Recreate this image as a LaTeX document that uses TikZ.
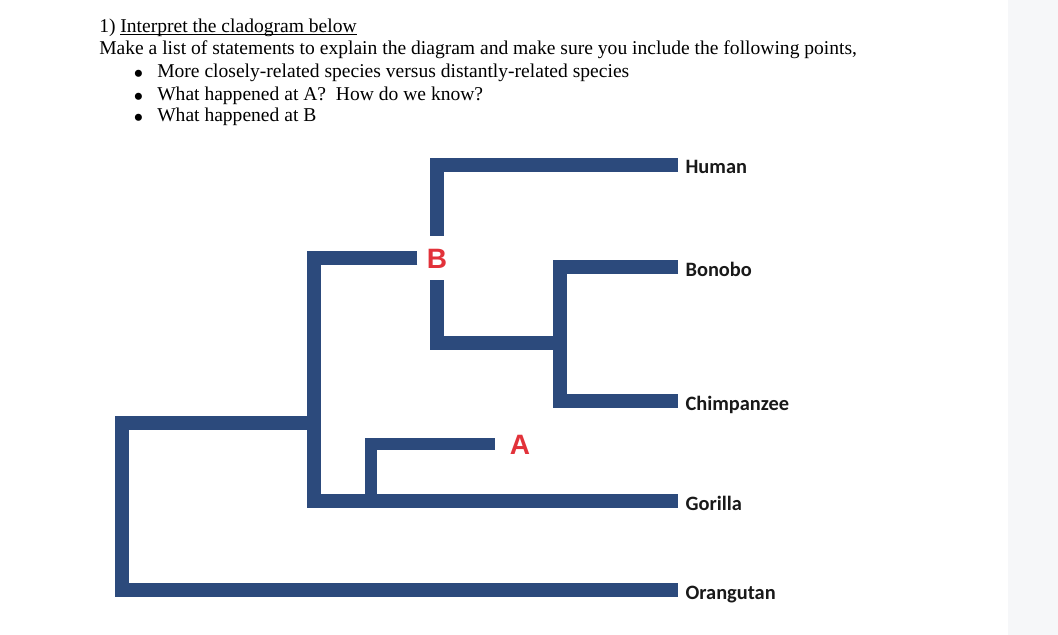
\documentclass[tikz,border=0pt]{standalone}
\usepackage{fontspec}
\setmainfont{Liberation Serif}
\newfontfamily\leaffont{Carlito}
\newfontfamily\cladefont{Liberation Sans}
\usepackage{tikz}
\usetikzlibrary{calc}
\definecolor{cladeblue}{HTML}{2C4A7C}
\definecolor{cladered}{HTML}{E2323A}
\definecolor{pagegrey}{HTML}{F6F7F9}
\newcommand{\qunderline}[1]{{\setbox0\hbox{#1}\rlap{\rule[-1.7pt]{\wd0}{0.6pt}}\box0}}
\newcommand{\qbullet}{\makebox[18pt][l]{\raisebox{-0.26em}{\scalebox{1.5}{\textbullet}}}}

\begin{document}
\begin{tikzpicture}[x=0.75pt,y=-0.75pt]
		\useasboundingbox (0,0) rectangle (1058,635);
		\fill[white] (0,0) rectangle (1008,635);
		\fill[pagegrey] (1008,0) rectangle (1058,635);

		% question
		\begin{scope}[every node/.style={anchor=base west,inner sep=0pt,font=\fontsize{14.67}{17}\selectfont}]
		\node (title) at (99,33) {1) \qunderline{Interpret the cladogram below}};
		\node (intro) at (99,55) {Make a list of statements to explain the diagram and make sure you include the following points,};
		\node (pt1) at (133,78) {\qbullet More closely-related species versus distantly-related species};
		\node (pt2) at (133,101) {\qbullet What happened at A?\ \ How do we know?};
		\node (pt3) at (133,122) {\qbullet What happened at B};
		\end{scope}

		% species
		\begin{scope}[every node/.style={anchor=west,inner xsep=5.5pt,inner ysep=0pt,
			text height=13.5pt,text depth=0pt,font=\leaffont\bfseries\fontsize{15.3}{18}\selectfont,text=black!90}]
		\node (human) at (678,165) {Human};
		\node (bonobo) at (678,267) {Bonobo};
		\node (chimp) at (678,401) {Chimpanzee};
		\node (gorilla) at (678,501) {Gorilla};
		\node (orang) at (678,590) {Orangutan};
		\end{scope}

		% A and B
		\begin{scope}[every node/.style={text height=15pt,text depth=0pt,text=cladered,
			font=\cladefont\bfseries\fontsize{21}{24}\selectfont}]
		\node[inner xsep=7pt,inner ysep=9pt] (B) at (437,258) {B};
		\node[inner xsep=11pt,inner ysep=2pt] (A) at (520,444) {A};
		\end{scope}

		\coordinate (root) at (122,423);
		\coordinate (hg) at (314,423);
		\coordinate (ga) at (371,501);
		\coordinate (bc) at (560,343);

		% branches
		\begin{scope}[every path/.style={draw=cladeblue,line width=10.5pt}]
		\path (hg) -- (root) |- (orang.west);
		\path (B.west) -| (hg) |- (gorilla.west);
		\path[line width=8.8pt] (ga) |- (A.west);
		\path (B.north) |- (human.west);
		\path (B.south) |- (bc);
		\path (bonobo.west) -| (bc) |- (chimp.west);
		\end{scope}
\end{tikzpicture}
\end{document}
